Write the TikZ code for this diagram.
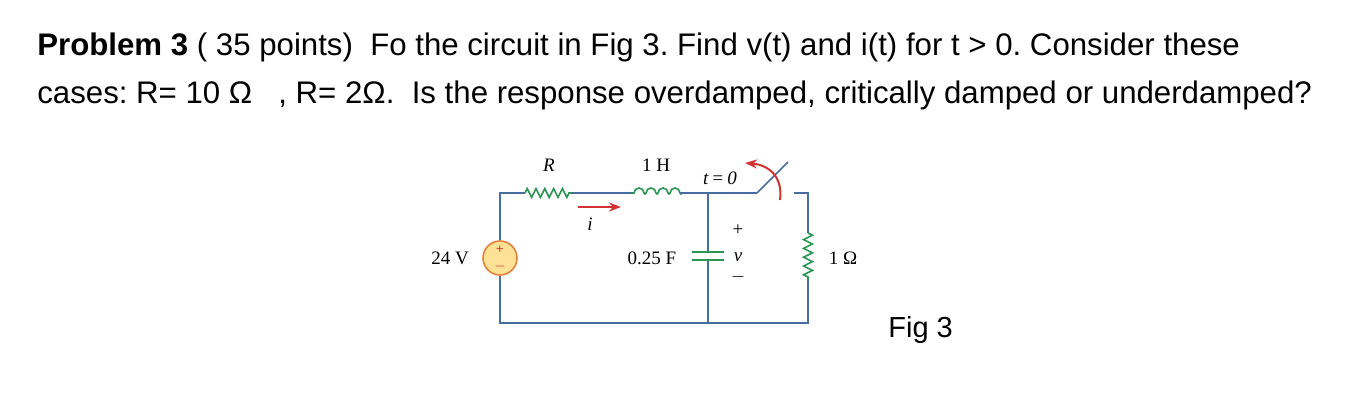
\documentclass[tikz,border=0pt]{standalone}
\usepackage{fontspec}
\setmainfont{Liberation Sans}
\newfontfamily\ckt{Liberation Serif}
\usetikzlibrary{decorations.pathmorphing,arrows.meta}
\definecolor{wire}{RGB}{70,110,160}
\definecolor{elem}{RGB}{40,150,80}
\definecolor{arr}{RGB}{210,50,50}
\definecolor{srcf}{RGB}{253,226,150}
\definecolor{srcd}{RGB}{230,130,60}
\frenchspacing
\begin{document}
\begin{tikzpicture}[x=0.5pt,y=-0.5pt,
  w/.style={draw=wire,line width=0.8pt},
  res/.style={draw=elem,line width=0.8pt,decorate,decoration={zigzag,segment length=4.4pt,amplitude=2.2pt}},
  lbl/.style={font=\ckt\fontsize{9.5}{11}\selectfont,inner sep=1pt},
  txt/.style={font=\fontsize{15.6}{18}\selectfont,anchor=west,inner sep=0pt}]
\useasboundingbox (0,0) rectangle (1358,412);
\node[txt] (l1) at (37,47) {\textbf{Problem 3} ( 35 points)\ \ Fo the circuit in Fig 3. Find v(t) and i(t) for t > 0. Consider these};
\node[txt] (l2) at (37,95) {cases: R= 10 Ω\ \ \ , R= 2Ω.\ \ Is the response overdamped, critically damped or underdamped?};
\node[txt,font=\fontsize{14.5}{18}\selectfont] (fig) at (888,330) {Fig 3};
% corners
\coordinate (tl) at (500,193); \coordinate (bl) at (500,323);
\coordinate (tm) at (708,193); \coordinate (bm) at (708,323);
\coordinate (tr) at (808,193); \coordinate (br) at (808,323);
\coordinate (trs) at (794,193);
\coordinate (r1) at (525,193); \coordinate (r2) at (572,193);
\coordinate (l1a) at (632,193); \coordinate (l1b) at (680,193);
\coordinate (sw1) at (757,193); \coordinate (sw2) at (788,162);
\coordinate (c1) at (708,252); \coordinate (c2) at (708,260);
\coordinate (rr1) at (808,233); \coordinate (rr2) at (808,280);
% source
\node[circle,draw=srcd,fill=srcf,line width=0.8pt,minimum size=17pt,inner sep=0pt] (src) at (500,258) {};
\node[font=\fontsize{6.5}{6.5}\selectfont,text=arr,inner sep=0pt] at (500,250) {+};
\node[font=\fontsize{6.5}{6.5}\selectfont,text=arr,inner sep=0pt] at (500,266) {$-$};
\draw[w] (src.north) -- (tl) -- (r1);
\draw[res] (r1) -- (r2);
\draw[w] (r2) -- (l1a);
\draw[elem,line width=0.8pt] (l1a) -- ++(2,0)
  \foreach \k in {0,...,3} {arc[start angle=180,end angle=360,radius=5] arc[start angle=180,end angle=0,radius=1]}
  -- (l1b);
\draw[w] (l1b) -- (tm) -- (sw1);
\draw[w] (sw1) -- (sw2);
\draw[w] (trs) -- (tr) -- (rr1);
\draw[res] (rr1) -- (rr2);
\draw[w] (rr2) -- (br) -- (bl) -- (src.south);
\draw[w] (tm) -- (c1); \draw[w] (c2) -- (bm);
\draw[elem,line width=0.9pt] (692,252) -- (724,252) (692,260) -- (724,260);
% arrows
\draw[arr,line width=1pt,-{Stealth[length=6pt]}] (578,207) -- (621,207);
\draw[arr,line width=1pt,-{Stealth[length=6pt]}] (780,200) .. controls (783,178) and (770,165) .. (745,163);
% labels
\node[lbl] (rl) at (549,165) {\itshape R};
\node[lbl] (ll) at (656,165) {1 H};
\node[lbl] (tl0) at (720,178) {\itshape t\,=\,0};
\node[lbl] (il) at (590,224) {\itshape i};
\node[lbl] (vs) at (450,258) {24 V};
\node[lbl] (cl) at (652,258) {0.25 F};
\node[lbl] (pl) at (738,230) {+};
\node[lbl] (vl) at (738,257) {\itshape v};
\node[lbl] (ml) at (738,277) {$-$};
\node[lbl] (ro) at (843,258) {1 Ω};
\end{tikzpicture}
\end{document}
